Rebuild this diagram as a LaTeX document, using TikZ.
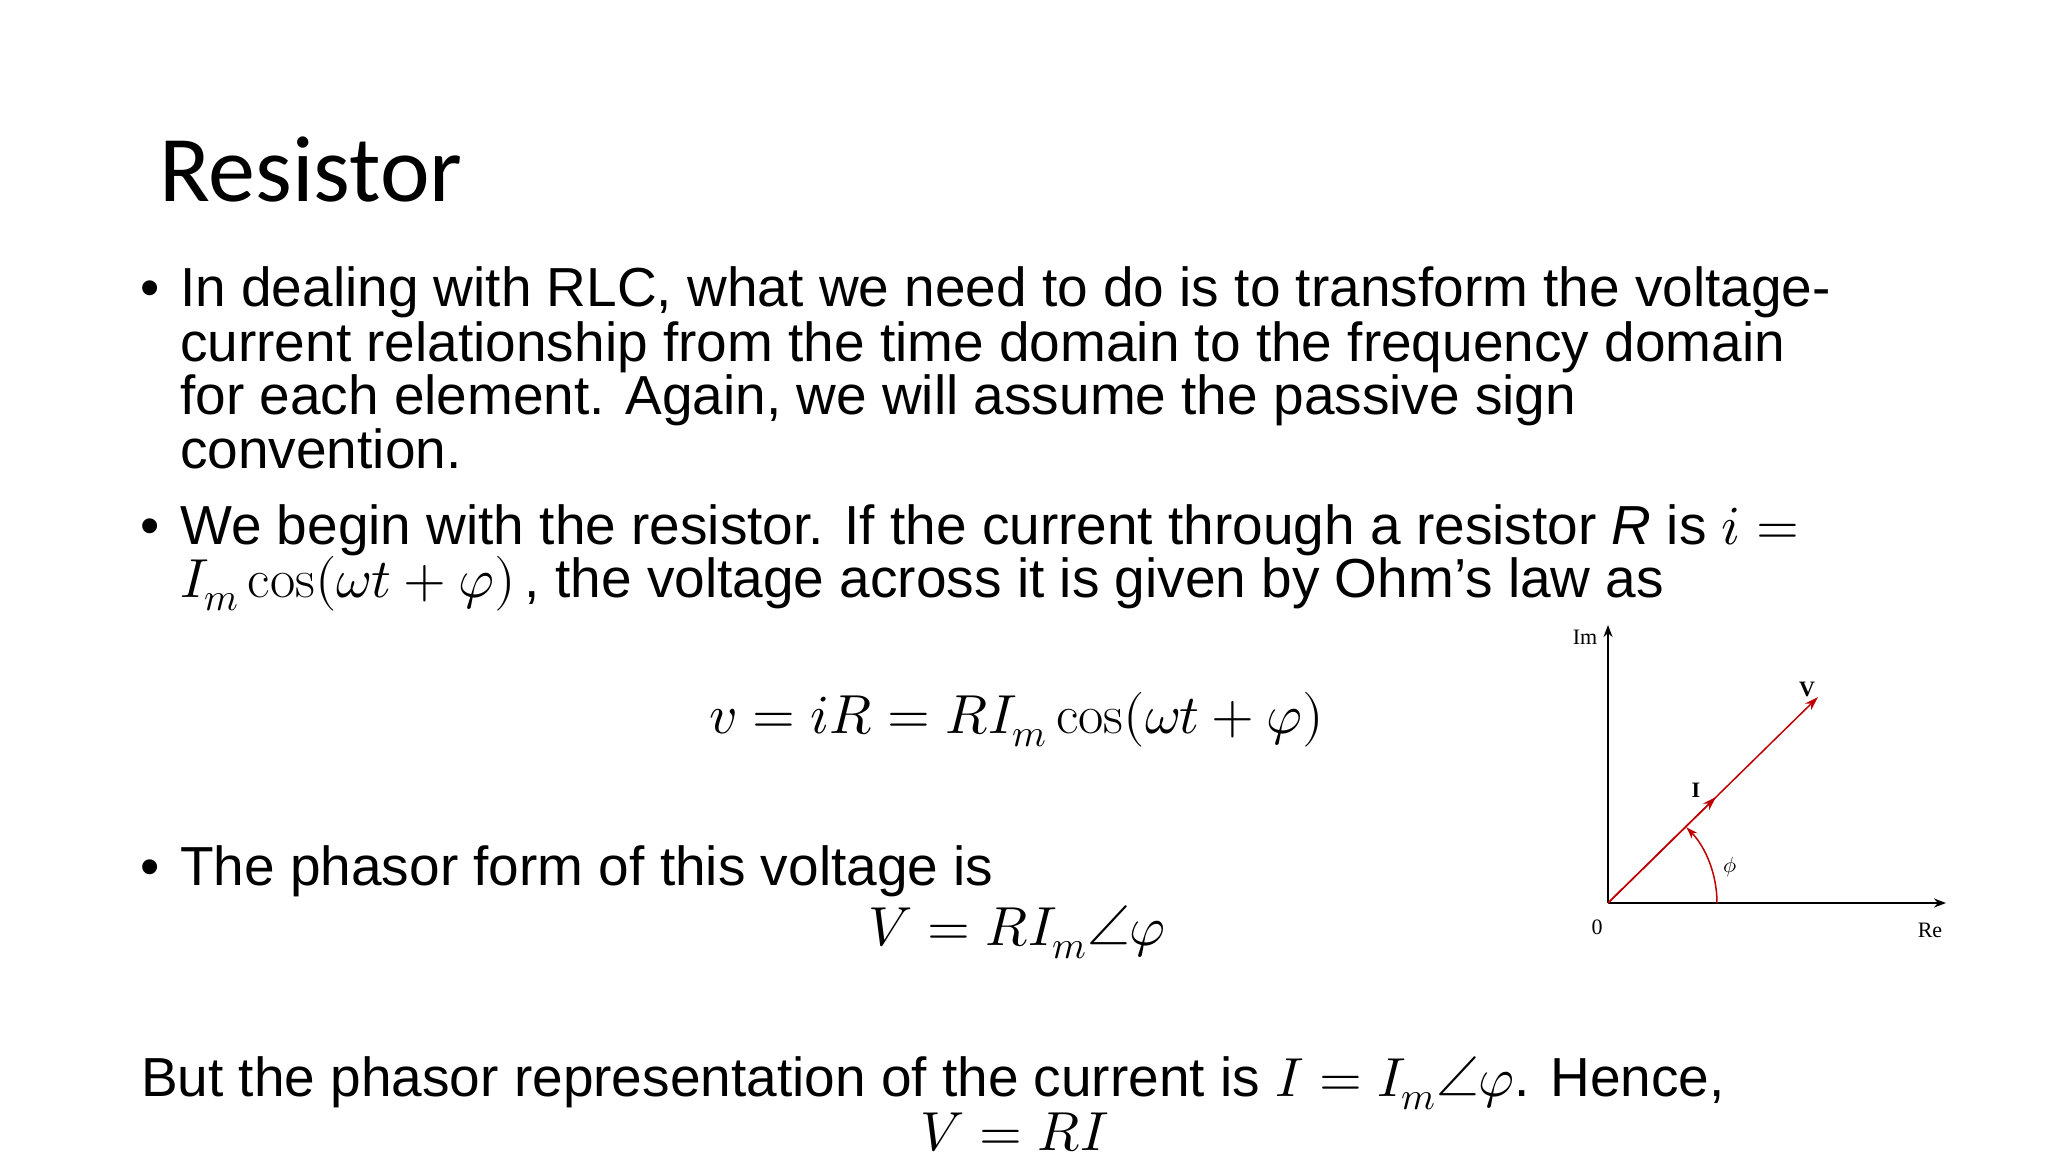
\documentclass[tikz,border=0pt]{standalone}
\usepackage{unicode-math}
\setmainfont{Liberation Sans}
\setmathfont{Latin Modern Math}
\setmathrm{Latin Modern Roman}
\newfontfamily\titlefont{Carlito}
\newfontfamily\serifd{Liberation Serif}
\usetikzlibrary{arrows.meta}
\begin{document}
\begin{tikzpicture}[x=1pt,y=-1pt,
  txt/.style={anchor=base west,inner sep=0pt,font=\fontsize{55}{58}\selectfont},
  eq/.style={anchor=base,inner sep=0pt,font=\fontsize{55}{58}\selectfont},
  lab/.style={inner sep=0pt,font=\serifd\fontsize{22}{24}\selectfont},
  axis/.style={line width=2pt,-{Stealth[length=12pt,width=9pt]}},
  phasor/.style={draw=red!75!black,line width=1.5pt,-{Stealth[length=14pt,width=9pt]}}]
\useasboundingbox[fill=white] (0,0) rectangle (2048,1152);
\node[anchor=base west,inner sep=0pt,font=\titlefont\fontsize{94}{100}\selectfont] (title) at (159,201) {Resistor};
\node[txt] (b1) at (140,306) {•};
\node[txt] (l1) at (180,306) {In dealing with RLC, what we need to do is to transform the voltage-};
\node[txt] (l2) at (180,361) {current relationship from the time domain to the frequency domain};
\node[txt] (l3) at (180,414) {for each element. Again, we will assume the passive sign};
\node[txt] (l4) at (180,468) {convention.};
\node[txt] (b2) at (140,544) {•};
\node[txt] (l5) at (180,544) {We begin with the resistor. If the current through a resistor \textit{R} is $i=$};
\node[txt] (l6) at (180,597) {$I_{m}\cos(\omega t+\varphi)$\,, the voltage across it is given by Ohm’s law as};
\node[eq] (e1) at (1017,733) {$v=iR=RI_{m}\cos(\omega t+\varphi)$};
\node[txt] (b3) at (140,885) {•};
\node[txt] (l7) at (180,885) {The phasor form of this voltage is};
\node[eq] (e2) at (1017,945) {$V=RI_{m}{\angle}\varphi$};
\node[txt] (l8) at (141,1096) {But the phasor representation of the current is $I=I_{m}{\angle}\varphi$. Hence,};
\node[eq] (e3) at (1015,1150) {$V=RI$};
% phasor diagram
\coordinate (O) at (1608,903);
\coordinate (imtop) at (1608,625);
\coordinate (reend) at (1946,903);
\coordinate (vtip) at (1818,697);
\coordinate (itip) at (1716,797);
\draw[axis] (O) -- (imtop);
\draw[axis] (O) -- (reend);
\draw[phasor] (O) -- (vtip);
\draw[phasor] (O) -- (itip);
\draw[red!75!black,line width=1.5pt,-{Stealth[length=12pt,width=8pt]}] ([xshift=109pt]O) arc[start angle=0,end angle=44,radius=109pt];
\node[lab] (im) at (1585,637) {Im};
\node[lab,font=\serifd\bfseries\fontsize{22}{24}\selectfont] (vl) at (1807,689) {V};
\node[lab,font=\serifd\bfseries\fontsize{22}{24}\selectfont] (il) at (1696,790) {I};
\node[lab] (phi) at (1730,867) {$\phi$};
\node[lab] (zero) at (1597,927) {0};
\node[lab] (re) at (1930,930) {Re};
\end{tikzpicture}
\end{document}
